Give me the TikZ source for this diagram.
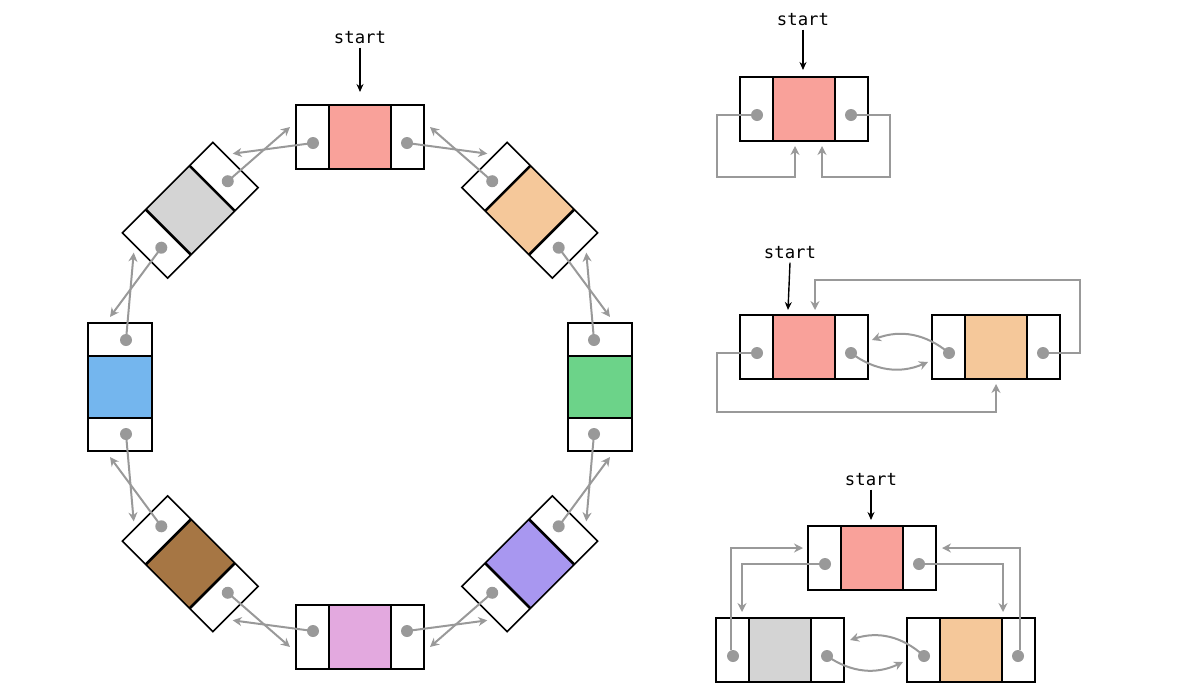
\documentclass[tikz,border=0pt]{standalone}
\usepackage{fontspec}
\newfontfamily\monofont{DejaVu Sans Mono}
\usetikzlibrary{arrows.meta}
\definecolor{ptrgray}{HTML}{999999}
\definecolor{cred}{HTML}{F9A19A}
\definecolor{corange}{HTML}{F5C89A}
\definecolor{cgreen}{HTML}{6CD389}
\definecolor{cpurple}{HTML}{A897F0}
\definecolor{cpink}{HTML}{E3A9DF}
\definecolor{cbrown}{HTML}{A67644}
\definecolor{cblue}{HTML}{74B6EE}
\definecolor{cgray}{HTML}{D4D4D4}
\tikzset{
  box/.style={line width=1.6pt, black},
  divider/.style={line width=2.6pt, black},
  ptr/.style={fill=ptrgray},
  arr/.style={draw=ptrgray, line width=2pt, -{Stealth[length=9pt,width=9pt]}},
  startarr/.style={line width=1.4pt, -{Stealth[length=8pt,width=7pt]}},
  lbl/.style={font=\monofont\LARGE},
}
% list cell: name, x, y, rotation, colour
\newcommand\listnode[5]{%
  \begin{scope}[shift={(#2,#3)},rotate=#4]
    \fill[fill=#5] (-31,-32) rectangle (31,32);
    \draw[box] (-64,-32) rectangle (64,32);
    \draw[divider] (-31,-32) -- (-31,32) (31,-32) -- (31,32);
    \fill[ptr] (-47,6) circle (6pt) (47,6) circle (6pt);
    \coordinate (#1-l) at (-47,6);
    \coordinate (#1-r) at (47,6);
    \coordinate (#1-li) at (-70,-10);
    \coordinate (#1-ri) at (70,-10);
  \end{scope}}
\begin{document}
\begin{tikzpicture}[x=1pt,y=-1pt]
  \useasboundingbox (0,0) rectangle (1179,689);

  % ring
  \foreach \n/\a/\c in {n0/90/cred, n1/45/corange, n2/0/cgreen, n3/-45/cpurple,
                        n4/-90/cpink, n5/-135/cbrown, n6/180/cblue, n7/135/cgray}
    \listnode{\n}{{360+240*cos(\a)}}{{387-250*sin(\a)}}{\a-90}{\c};
  \foreach \p/\q in {n0/n1, n1/n2, n2/n3, n3/n4, n4/n5, n5/n6, n6/n7, n7/n0} {
    \draw[arr] (\p-r) -- (\q-li);
    \draw[arr] (\q-l) -- (\p-ri);
  }
  \node[lbl] (s0) at (360,38) {start};
  \draw[startarr] (s0.south) -- (360,92);

  % one element
  \listnode{a}{804}{109}{0}{cred};
  \node[lbl] (s1) at (803,20) {start};
  \draw[startarr] (s1.south) -- (803,70);
  \draw[arr] (a-r) -- (890,115) -- (890,177) -- (822,177) -- (822,146);
  \draw[arr] (a-l) -- (717,115) -- (717,177) -- (795,177) -- (795,146);

  % two elements
  \listnode{b}{804}{347}{0}{cred};
  \listnode{c}{996}{347}{0}{corange};
  \node[lbl] (s2) at (790,253) {start};
  \draw[startarr] (s2.south) -- (788,310);
  \draw[arr] (c-r) -- (1080,353) -- (1080,280) -- (815,280) -- (815,310);
  \draw[arr] (b-l) -- (717,353) -- (717,412) -- (996,412) -- (996,384);
  \draw[arr] (b-r) to[bend right=30] (928,362);
  \draw[arr] (c-l) to[bend right=30] (872,340);

  % three elements
  \listnode{d}{872}{558}{0}{cred};
  \listnode{e}{780}{650}{0}{cgray};
  \listnode{f}{971}{650}{0}{corange};
  \node[lbl] (s3) at (871,480) {start};
  \draw[startarr] (s3.south) -- (871,520);
  \draw[arr] (d-l) -- (742,564) -- (742,612);
  \draw[arr] (d-r) -- (1003,564) -- (1003,612);
  \draw[arr] (731,650) -- (731,548) -- (803,548);
  \draw[arr] (1020,650) -- (1020,548) -- (942,548);
  \draw[arr] (e-r) to[bend right=30] (903,662);
  \draw[arr] (f-l) to[bend right=30] (850,640);
\end{tikzpicture}
\end{document}
